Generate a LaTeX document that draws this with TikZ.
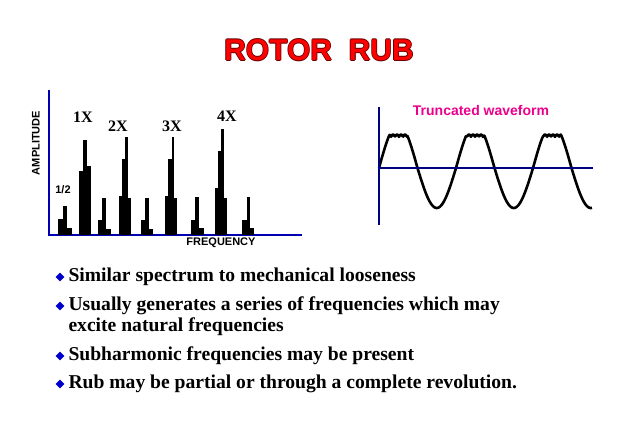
\documentclass[tikz,border=0pt]{standalone}
\usepackage{fontspec}
\usetikzlibrary{shapes.geometric}
\setmainfont{Liberation Serif}
\newfontfamily\arial{Liberation Sans}
\begin{document}
\begin{tikzpicture}[x=1pt,y=-1pt,
  axis/.style={draw=blue!70!black,line width=2pt},
  bar/.style={fill=black},
  hx/.style={font=\rmfamily\bfseries\fontsize{16}{16}\selectfont},
  sm/.style={font=\arial\bfseries\fontsize{11}{11}\selectfont},
  ttl/.style={font=\arial\bfseries\fontsize{30}{30}\selectfont},
  bul/.style={anchor=west,font=\bfseries\fontsize{19.6}{21}\selectfont,align=left},
  dia/.style={fill=blue!80!black,draw=none,minimum size=9pt,inner sep=0pt,diamond}]
\useasboundingbox[fill=white] (0,0) rectangle (638,442);
\foreach \dx/\dy in {-0.8/0,0.8/0,0/-0.8,0/0.8}
  \path (319+\dx,50+\dy) node[ttl,text=red!40!black] {ROTOR\ \ RUB};
\node[ttl,text=red] (title) at (319,50) {ROTOR\ \ RUB};
% spectrum
\coordinate (o) at (49,235);
\coordinate (yt) at (49,90);
\coordinate (xe) at (302,235);
\draw[axis] (yt) -- (o) -- (xe);
\foreach \a/\b/\t in {58/63/219,63/67/206,67/72/228,
  79/83/171,83/87/140,87/91/166,
  98/102/220,102/106/198,106/111/229,
  119/122/196,122/125/159,125/128/137,128/131/198,
  141/145/220,145/149/198,149/153/229,
  165/168/196,168/172/159,172/174/137,174/177/198,
  191/195/220,195/199/197,199/204/228,
  215/218/188,218/221/151,221/224/129,224/227/198,
  242/247/220,247/250/197,250/254/228}
  \fill[bar] (\a,235) rectangle (\b,\t);
\node[hx] (l1) at (83,117) {1X};
\node[hx] (l2) at (118,126) {2X};
\node[hx] (l3) at (172,126) {3X};
\node[hx] (l4) at (227,116) {4X};
\node[sm] (lh) at (63,190) {1/2};
\node[sm,rotate=90] (amp) at (36,143) {AMPLITUDE};
\node[sm] (freq) at (221,243) {FREQUENCY};
% waveform
\coordinate (wa) at (379,107);
\coordinate (wb) at (379,225);
\coordinate (w0) at (379,168);
\coordinate (we) at (593,168);
\draw[black,line width=2.6pt,line join=round] plot[domain=0:213,samples=300,variable=\t]
  ({379+\t},{168 - ( sin(4.675*\t) > 0 ? min(44*sin(4.675*\t), 31 + 2.5*abs(sin(45*\t))) : 40*sin(4.675*\t) )});
\draw[axis,draw=blue!50!black] (wa) -- (wb);
\draw[axis,draw=blue!50!black] (w0) -- (we);
\node[font=\arial\bfseries\fontsize{14}{14}\selectfont,text=magenta] (tw) at (481,110) {Truncated waveform};
% bullets
\foreach \y/\t [count=\i] in {277/{Similar spectrum to mechanical looseness},
  306/{Usually generates a series of frequencies which may},
  356/{Subharmonic frequencies may be present},
  384/{Rub may be partial or through a complete revolution.}}
{ \node[dia] (d\i) at (60,\y) {}; \node[bul] (b\i) at (65,\y) {\t}; }
\node[bul] (b2b) at (65,327) {excite natural frequencies};
\end{tikzpicture}
\end{document}
